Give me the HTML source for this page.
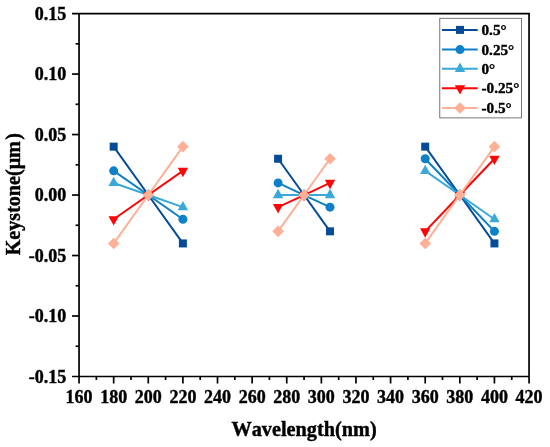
<!DOCTYPE html>
<html><head><meta charset="utf-8"><title>Keystone vs Wavelength</title>
<style>
html,body{margin:0;padding:0;background:#fff;}
body{width:550px;height:447px;overflow:hidden;}
svg{display:block;}
text{font-family:"Liberation Serif","Times New Roman",serif;font-weight:bold;fill:#000;font-kerning:none;stroke:#000;stroke-width:0.4px;}
.tk{font-size:18px;}
.lg{font-size:15.2px;}
.ti{font-size:20.3px;}
</style></head><body>
<svg width="550" height="447" viewBox="0 0 550 447">
<rect x="0" y="0" width="550" height="447" fill="#fff"/>

<g stroke="#000" stroke-width="1.7" fill="none" stroke-linecap="butt">
<line x1="72.05" y1="13.58" x2="529.9" y2="13.58"/>
<line x1="529.05" y1="13.58" x2="529.05" y2="383.5"/>
<line x1="79.05" y1="13.58" x2="79.05" y2="383.5"/>
<line x1="72.05" y1="376.5" x2="529.05" y2="376.5"/>
<line x1="75.55" y1="346.26" x2="79.05" y2="346.26"/>
<line x1="72.05" y1="316.01" x2="79.05" y2="316.01"/>
<line x1="75.55" y1="285.77" x2="79.05" y2="285.77"/>
<line x1="72.05" y1="255.53" x2="79.05" y2="255.53"/>
<line x1="75.55" y1="225.28" x2="79.05" y2="225.28"/>
<line x1="72.05" y1="195.04" x2="79.05" y2="195.04"/>
<line x1="75.55" y1="164.80" x2="79.05" y2="164.80"/>
<line x1="72.05" y1="134.55" x2="79.05" y2="134.55"/>
<line x1="75.55" y1="104.31" x2="79.05" y2="104.31"/>
<line x1="72.05" y1="74.07" x2="79.05" y2="74.07"/>
<line x1="75.55" y1="43.82" x2="79.05" y2="43.82"/>
<line x1="96.36" y1="376.5" x2="96.36" y2="380.0"/>
<line x1="113.67" y1="376.5" x2="113.67" y2="383.5"/>
<line x1="130.97" y1="376.5" x2="130.97" y2="380.0"/>
<line x1="148.28" y1="376.5" x2="148.28" y2="383.5"/>
<line x1="165.59" y1="376.5" x2="165.59" y2="380.0"/>
<line x1="182.90" y1="376.5" x2="182.90" y2="383.5"/>
<line x1="200.20" y1="376.5" x2="200.20" y2="380.0"/>
<line x1="217.51" y1="376.5" x2="217.51" y2="383.5"/>
<line x1="234.82" y1="376.5" x2="234.82" y2="380.0"/>
<line x1="252.13" y1="376.5" x2="252.13" y2="383.5"/>
<line x1="269.43" y1="376.5" x2="269.43" y2="380.0"/>
<line x1="286.74" y1="376.5" x2="286.74" y2="383.5"/>
<line x1="304.05" y1="376.5" x2="304.05" y2="380.0"/>
<line x1="321.36" y1="376.5" x2="321.36" y2="383.5"/>
<line x1="338.67" y1="376.5" x2="338.67" y2="380.0"/>
<line x1="355.97" y1="376.5" x2="355.97" y2="383.5"/>
<line x1="373.28" y1="376.5" x2="373.28" y2="380.0"/>
<line x1="390.59" y1="376.5" x2="390.59" y2="383.5"/>
<line x1="407.90" y1="376.5" x2="407.90" y2="380.0"/>
<line x1="425.20" y1="376.5" x2="425.20" y2="383.5"/>
<line x1="442.51" y1="376.5" x2="442.51" y2="380.0"/>
<line x1="459.82" y1="376.5" x2="459.82" y2="383.5"/>
<line x1="477.13" y1="376.5" x2="477.13" y2="380.0"/>
<line x1="494.43" y1="376.5" x2="494.43" y2="383.5"/>
<line x1="511.74" y1="376.5" x2="511.74" y2="380.0"/>
</g>
<g class="tk">
<text x="66.3" y="19.68" text-anchor="end">0.15</text>
<text x="66.3" y="80.17" text-anchor="end">0.10</text>
<text x="66.3" y="140.65" text-anchor="end">0.05</text>
<text x="66.3" y="201.14" text-anchor="end">0.00</text>
<text x="66.3" y="261.63" text-anchor="end">-0.05</text>
<text x="66.3" y="322.11" text-anchor="end">-0.10</text>
<text x="66.3" y="382.60" text-anchor="end">-0.15</text>
<text x="79.05" y="403.45" text-anchor="middle">160</text>
<text x="113.67" y="403.45" text-anchor="middle">180</text>
<text x="148.28" y="403.45" text-anchor="middle">200</text>
<text x="182.90" y="403.45" text-anchor="middle">220</text>
<text x="217.51" y="403.45" text-anchor="middle">240</text>
<text x="252.13" y="403.45" text-anchor="middle">260</text>
<text x="286.74" y="403.45" text-anchor="middle">280</text>
<text x="321.36" y="403.45" text-anchor="middle">300</text>
<text x="355.97" y="403.45" text-anchor="middle">320</text>
<text x="390.59" y="403.45" text-anchor="middle">340</text>
<text x="425.20" y="403.45" text-anchor="middle">360</text>
<text x="459.82" y="403.45" text-anchor="middle">380</text>
<text x="494.43" y="403.45" text-anchor="middle">400</text>
<text x="529.05" y="403.45" text-anchor="middle">420</text>
</g>
<text class="ti" x="304.05" y="436.2" text-anchor="middle">Wavelength(nm)</text>
<text class="ti" style="font-size:20.1px" transform="translate(19.9,194.2) rotate(-90)" text-anchor="middle">Keystone(μm<tspan dx="1.4">)</tspan></text>
<g stroke="#054b97" stroke-width="2" fill="none">
<polyline points="113.67,146.65 148.28,195.04 182.90,243.43"/>
<polyline points="278.09,158.75 304.05,195.04 330.01,231.33"/>
<polyline points="425.20,146.65 459.82,195.04 494.43,243.43"/>
</g>
<rect x="109.67" y="142.65" width="8.0" height="8.0" fill="#054b97"/>
<rect x="144.28" y="191.04" width="8.0" height="8.0" fill="#054b97"/>
<rect x="178.90" y="239.43" width="8.0" height="8.0" fill="#054b97"/>
<rect x="274.09" y="154.75" width="8.0" height="8.0" fill="#054b97"/>
<rect x="300.05" y="191.04" width="8.0" height="8.0" fill="#054b97"/>
<rect x="326.01" y="227.33" width="8.0" height="8.0" fill="#054b97"/>
<rect x="421.20" y="142.65" width="8.0" height="8.0" fill="#054b97"/>
<rect x="455.82" y="191.04" width="8.0" height="8.0" fill="#054b97"/>
<rect x="490.43" y="239.43" width="8.0" height="8.0" fill="#054b97"/>
<g stroke="#0c80c8" stroke-width="2" fill="none">
<polyline points="113.67,170.85 148.28,195.04 182.90,219.23"/>
<polyline points="278.09,182.94 304.05,195.04 330.01,207.14"/>
<polyline points="425.20,158.75 459.82,195.04 494.43,231.33"/>
</g>
<circle cx="113.67" cy="170.85" r="4.5" fill="#0c80c8"/>
<circle cx="148.28" cy="195.04" r="4.5" fill="#0c80c8"/>
<circle cx="182.90" cy="219.23" r="4.5" fill="#0c80c8"/>
<circle cx="278.09" cy="182.94" r="4.5" fill="#0c80c8"/>
<circle cx="304.05" cy="195.04" r="4.5" fill="#0c80c8"/>
<circle cx="330.01" cy="207.14" r="4.5" fill="#0c80c8"/>
<circle cx="425.20" cy="158.75" r="4.5" fill="#0c80c8"/>
<circle cx="459.82" cy="195.04" r="4.5" fill="#0c80c8"/>
<circle cx="494.43" cy="231.33" r="4.5" fill="#0c80c8"/>
<g stroke="#3aa8d8" stroke-width="2" fill="none">
<polyline points="113.67,182.94 148.28,195.04 182.90,207.14"/>
<polyline points="278.09,195.04 304.05,195.04 330.01,195.04"/>
<polyline points="425.20,170.85 459.82,195.04 494.43,219.23"/>
</g>
<polygon points="113.67,176.74 108.47,186.04 118.87,186.04" fill="#3aa8d8"/>
<polygon points="148.28,188.84 143.08,198.14 153.48,198.14" fill="#3aa8d8"/>
<polygon points="182.90,200.94 177.70,210.24 188.10,210.24" fill="#3aa8d8"/>
<polygon points="278.09,188.84 272.89,198.14 283.29,198.14" fill="#3aa8d8"/>
<polygon points="304.05,188.84 298.85,198.14 309.25,198.14" fill="#3aa8d8"/>
<polygon points="330.01,188.84 324.81,198.14 335.21,198.14" fill="#3aa8d8"/>
<polygon points="425.20,164.65 420.00,173.95 430.40,173.95" fill="#3aa8d8"/>
<polygon points="459.82,188.84 454.62,198.14 465.02,198.14" fill="#3aa8d8"/>
<polygon points="494.43,213.03 489.23,222.33 499.63,222.33" fill="#3aa8d8"/>
<g stroke="#fe0606" stroke-width="2" fill="none">
<polyline points="113.67,219.23 148.28,195.04 182.90,170.85"/>
<polyline points="278.09,207.14 304.05,195.04 330.01,182.94"/>
<polyline points="425.20,231.33 459.82,195.04 494.43,158.75"/>
</g>
<polygon points="113.67,225.53 108.47,216.13 118.87,216.13" fill="#fe0606"/>
<polygon points="148.28,201.34 143.08,191.94 153.48,191.94" fill="#fe0606"/>
<polygon points="182.90,177.15 177.70,167.75 188.10,167.75" fill="#fe0606"/>
<polygon points="278.09,213.44 272.89,204.04 283.29,204.04" fill="#fe0606"/>
<polygon points="304.05,201.34 298.85,191.94 309.25,191.94" fill="#fe0606"/>
<polygon points="330.01,189.24 324.81,179.84 335.21,179.84" fill="#fe0606"/>
<polygon points="425.20,237.63 420.00,228.23 430.40,228.23" fill="#fe0606"/>
<polygon points="459.82,201.34 454.62,191.94 465.02,191.94" fill="#fe0606"/>
<polygon points="494.43,165.05 489.23,155.65 499.63,155.65" fill="#fe0606"/>
<g stroke="#feb096" stroke-width="2" fill="none">
<polyline points="113.67,243.43 148.28,195.04 182.90,146.65"/>
<polyline points="278.09,231.33 304.05,195.04 330.01,158.75"/>
<polyline points="425.20,243.43 459.82,195.04 494.43,146.65"/>
</g>
<polygon points="113.67,237.63 119.47,243.43 113.67,249.23 107.87,243.43" fill="#feb096"/>
<polygon points="148.28,189.24 154.08,195.04 148.28,200.84 142.48,195.04" fill="#feb096"/>
<polygon points="182.90,140.85 188.70,146.65 182.90,152.45 177.10,146.65" fill="#feb096"/>
<polygon points="278.09,225.53 283.89,231.33 278.09,237.13 272.29,231.33" fill="#feb096"/>
<polygon points="304.05,189.24 309.85,195.04 304.05,200.84 298.25,195.04" fill="#feb096"/>
<polygon points="330.01,152.95 335.81,158.75 330.01,164.55 324.21,158.75" fill="#feb096"/>
<polygon points="425.20,237.63 431.00,243.43 425.20,249.23 419.40,243.43" fill="#feb096"/>
<polygon points="459.82,189.24 465.62,195.04 459.82,200.84 454.02,195.04" fill="#feb096"/>
<polygon points="494.43,140.85 500.23,146.65 494.43,152.45 488.63,146.65" fill="#feb096"/>
<rect x="439.8" y="18.3" width="81.7" height="99.6" fill="#fff" stroke="#555" stroke-width="0.8"/>
<line x1="442" y1="29.9" x2="477.7" y2="29.9" stroke="#054b97" stroke-width="2"/>
<rect x="456.00" y="25.90" width="8.0" height="8.0" fill="#054b97"/>
<text class="lg" x="481.5" y="35.00">0.5°</text>
<line x1="442" y1="49.6" x2="477.7" y2="49.6" stroke="#0c80c8" stroke-width="2"/>
<circle cx="460.00" cy="49.60" r="4.5" fill="#0c80c8"/>
<text class="lg" x="481.5" y="54.70">0.25°</text>
<line x1="442" y1="68.8" x2="477.7" y2="68.8" stroke="#3aa8d8" stroke-width="2"/>
<polygon points="460.00,62.60 454.80,71.90 465.20,71.90" fill="#3aa8d8"/>
<text class="lg" x="481.5" y="73.90">0°</text>
<line x1="442" y1="88.3" x2="477.7" y2="88.3" stroke="#fe0606" stroke-width="2"/>
<polygon points="460.00,94.60 454.80,85.20 465.20,85.20" fill="#fe0606"/>
<text class="lg" x="481.5" y="93.40">-0.25°</text>
<line x1="442" y1="108.0" x2="477.7" y2="108.0" stroke="#feb096" stroke-width="2"/>
<polygon points="460.00,102.20 465.80,108.00 460.00,113.80 454.20,108.00" fill="#feb096"/>
<text class="lg" x="481.5" y="113.10">-0.5°</text>
</svg></body></html>
